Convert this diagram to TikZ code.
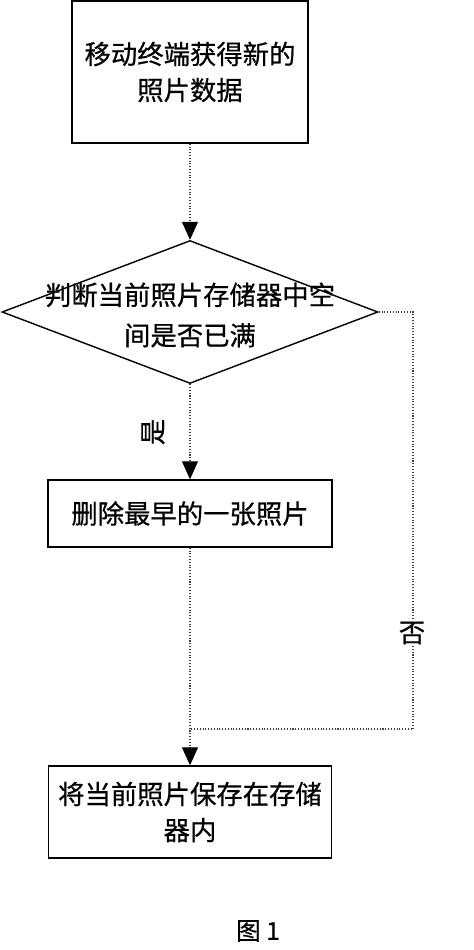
\documentclass[tikz,border=0pt]{standalone}
\usepackage{fontspec}
\newfontfamily\cjk{Noto Sans CJK SC}[FakeBold=0.6]
\usetikzlibrary{positioning,arrows.meta,shapes.geometric}

\begin{document}
\begin{tikzpicture}[
    >={Triangle[length=0.36cm,width=0.32cm,black]},
    every node/.style={font=\cjk\fontsize{15}{20.5}\selectfont},
    block/.style={draw, line width=0.8pt, align=center, inner sep=0pt},
    decision/.style={draw, diamond, line width=0.8pt, inner sep=0pt, minimum width=7.52cm, minimum height=2.86cm},
    link/.style={densely dotted, line width=0.6pt, black!75},
]
\useasboundingbox (0,0) rectangle (9.48,-19);

% column x
\def\colx{3.80}

% Step 1: new photo arrives
\node[block, minimum width=4.72cm, minimum height=2.84cm] (newpic) at (\colx,-1.44) {移动终端获得新的\\照片数据};

% Step 2: is the store full?
\node[decision] (check) at (\colx,-6.24) {};
\node[align=center, font=\cjk\fontsize{15}{23}\selectfont] (checktxt) at (\colx,-6.30) {判断当前照片存储器中空\\间是否已满};
\draw[link,->] (newpic) -- (check);

% Step 3: delete oldest
\node[block, minimum width=5.68cm, minimum height=1.34cm] (delold) at (\colx,-10.27) {删除最早的一张照片};
\draw[link,->] (check) -- (delold);
\node[rotate=90] (yes) at (3.06,-8.64) {是};

% Step 4: save photo
\node[block, minimum width=5.66cm, minimum height=1.84cm] (save) at (\colx,-16.24) {将当前照片保存在存储\\器内};
\draw[link,->] (delold) -- (save);

% "no" branch on the right
\coordinate (corner) at (8.26,-14.58);
\coordinate (merge) at (\colx,-14.58);
\draw[link] (check.east) -| (corner) -- (merge);
\node[fill=white, inner sep=1pt] (no) at (8.24,-12.66) {否};

% caption
\node[font=\cjk\fontsize{14}{16}\selectfont] (caption) at (5.16,-18.62) {图 1};

\end{tikzpicture}
\end{document}
